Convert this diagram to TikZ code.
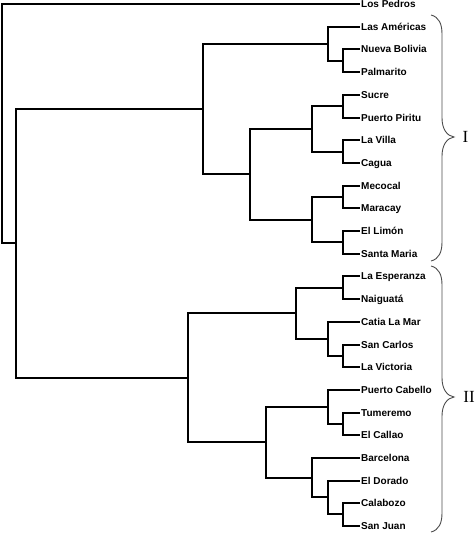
\documentclass[tikz,border=0pt]{standalone}
\usepackage{fontspec}
\setmainfont{Liberation Sans}
\newfontfamily\romanfont{Liberation Serif}
\begin{document}
\begin{tikzpicture}[x=1pt,y=-1pt,
  branch/.style={line width=2pt,black,line cap=rect},
  leaf/.style={anchor=west,inner sep=2pt,text height=7pt,text depth=0pt,font=\fontsize{10}{11}\selectfont\bfseries},
  bracepath/.style={line width=0.9pt,draw=black!70},
  grouplabel/.style={font=\romanfont\fontsize{17}{17}\selectfont,inner sep=0pt}]
\useasboundingbox (0,0) rectangle (474,534);
% leaves
\node[leaf] (l0) at (359,4) {Los Pedros};
\node[leaf] (l1) at (359,27) {Las Américas};
\node[leaf] (l2) at (359,49) {Nueva Bolivia};
\node[leaf] (l3) at (359,72) {Palmarito};
\node[leaf] (l4) at (359,95) {Sucre};
\node[leaf] (l5) at (359,118) {Puerto Piritu};
\node[leaf] (l6) at (359,140) {La Villa};
\node[leaf] (l7) at (359,163) {Cagua};
\node[leaf] (l8) at (359,186) {Mecocal};
\node[leaf] (l9) at (359,208) {Maracay};
\node[leaf] (l10) at (359,231) {El Limón};
\node[leaf] (l11) at (359,254) {Santa Maria};
\node[leaf] (l12) at (359,276) {La Esperanza};
\node[leaf] (l13) at (359,299) {Naiguatá};
\node[leaf] (l14) at (359,322) {Catia La Mar};
\node[leaf] (l15) at (359,345) {San Carlos};
\node[leaf] (l16) at (359,367) {La Victoria};
\node[leaf] (l17) at (359,390) {Puerto Cabello};
\node[leaf] (l18) at (359,413) {Tumeremo};
\node[leaf] (l19) at (359,435) {El Callao};
\node[leaf] (l20) at (359,458) {Barcelona};
\node[leaf] (l21) at (359,481) {El Dorado};
\node[leaf] (l22) at (359,503) {Calabozo};
\node[leaf] (l23) at (359,526) {San Juan};
% internal nodes
\coordinate (root) at (2,123);
\coordinate (A) at (16,243);
\coordinate (B) at (203,109);
\coordinate (B1) at (328,44);
\coordinate (B1a) at (343,61);
\coordinate (B2) at (250,174);
\coordinate (B2a) at (312,129);
\coordinate (n1) at (343,106);
\coordinate (n2) at (343,152);
\coordinate (B2b) at (312,220);
\coordinate (n3) at (343,197);
\coordinate (n4) at (343,242);
\coordinate (C) at (188,378);
\coordinate (C1) at (296,313);
\coordinate (n5) at (343,288);
\coordinate (C1b) at (328,339);
\coordinate (n6) at (343,356);
\coordinate (C2) at (266,442);
\coordinate (C2a) at (328,407);
\coordinate (n7) at (343,424);
\coordinate (C2b) at (312,478);
\coordinate (C2b1) at (328,497);
\coordinate (n8) at (343,514);
% branches
\draw[branch] (root) |- (l0.west);
\draw[branch] (root) |- (A);
\draw[branch] (A) |- (B);
\draw[branch] (A) |- (C);
\draw[branch] (B) |- (B1);
\draw[branch] (B) |- (B2);
\draw[branch] (B1) |- (l1.west);
\draw[branch] (B1) |- (B1a);
\draw[branch] (B1a) |- (l2.west);
\draw[branch] (B1a) |- (l3.west);
\draw[branch] (B2) |- (B2a);
\draw[branch] (B2) |- (B2b);
\draw[branch] (B2a) |- (n1);
\draw[branch] (B2a) |- (n2);
\draw[branch] (n1) |- (l4.west);
\draw[branch] (n1) |- (l5.west);
\draw[branch] (n2) |- (l6.west);
\draw[branch] (n2) |- (l7.west);
\draw[branch] (B2b) |- (n3);
\draw[branch] (B2b) |- (n4);
\draw[branch] (n3) |- (l8.west);
\draw[branch] (n3) |- (l9.west);
\draw[branch] (n4) |- (l10.west);
\draw[branch] (n4) |- (l11.west);
\draw[branch] (C) |- (C1);
\draw[branch] (C) |- (C2);
\draw[branch] (C1) |- (n5);
\draw[branch] (C1) |- (C1b);
\draw[branch] (n5) |- (l12.west);
\draw[branch] (n5) |- (l13.west);
\draw[branch] (C1b) |- (l14.west);
\draw[branch] (C1b) |- (n6);
\draw[branch] (n6) |- (l15.west);
\draw[branch] (n6) |- (l16.west);
\draw[branch] (C2) |- (C2a);
\draw[branch] (C2) |- (C2b);
\draw[branch] (C2a) |- (l17.west);
\draw[branch] (C2a) |- (n7);
\draw[branch] (n7) |- (l18.west);
\draw[branch] (n7) |- (l19.west);
\draw[branch] (C2b) |- (l20.west);
\draw[branch] (C2b) |- (C2b1);
\draw[branch] (C2b1) |- (l21.west);
\draw[branch] (C2b1) |- (n8);
\draw[branch] (n8) |- (l22.west);
\draw[branch] (n8) |- (l23.west);
% braces
\draw[bracepath] (431,15) .. controls (439,17) and (442,24) .. (442,34) -- (442,118)
  .. controls (442,129) and (447,136) .. (454,137)
  .. controls (447,138) and (442,145) .. (442,156) -- (442,242)
  .. controls (442,252) and (439,259) .. (431,261);
\node[grouplabel] (gI) at (465.5,137) {I};
\draw[bracepath] (431,266) .. controls (439,268) and (442,275) .. (442,285) -- (442,378)
  .. controls (442,389) and (447,396) .. (454,397)
  .. controls (447,398) and (442,405) .. (442,416) -- (442,513)
  .. controls (442,523) and (439,530) .. (431,532);
\node[grouplabel] (gII) at (469,397) {II};
\end{tikzpicture}
\end{document}
